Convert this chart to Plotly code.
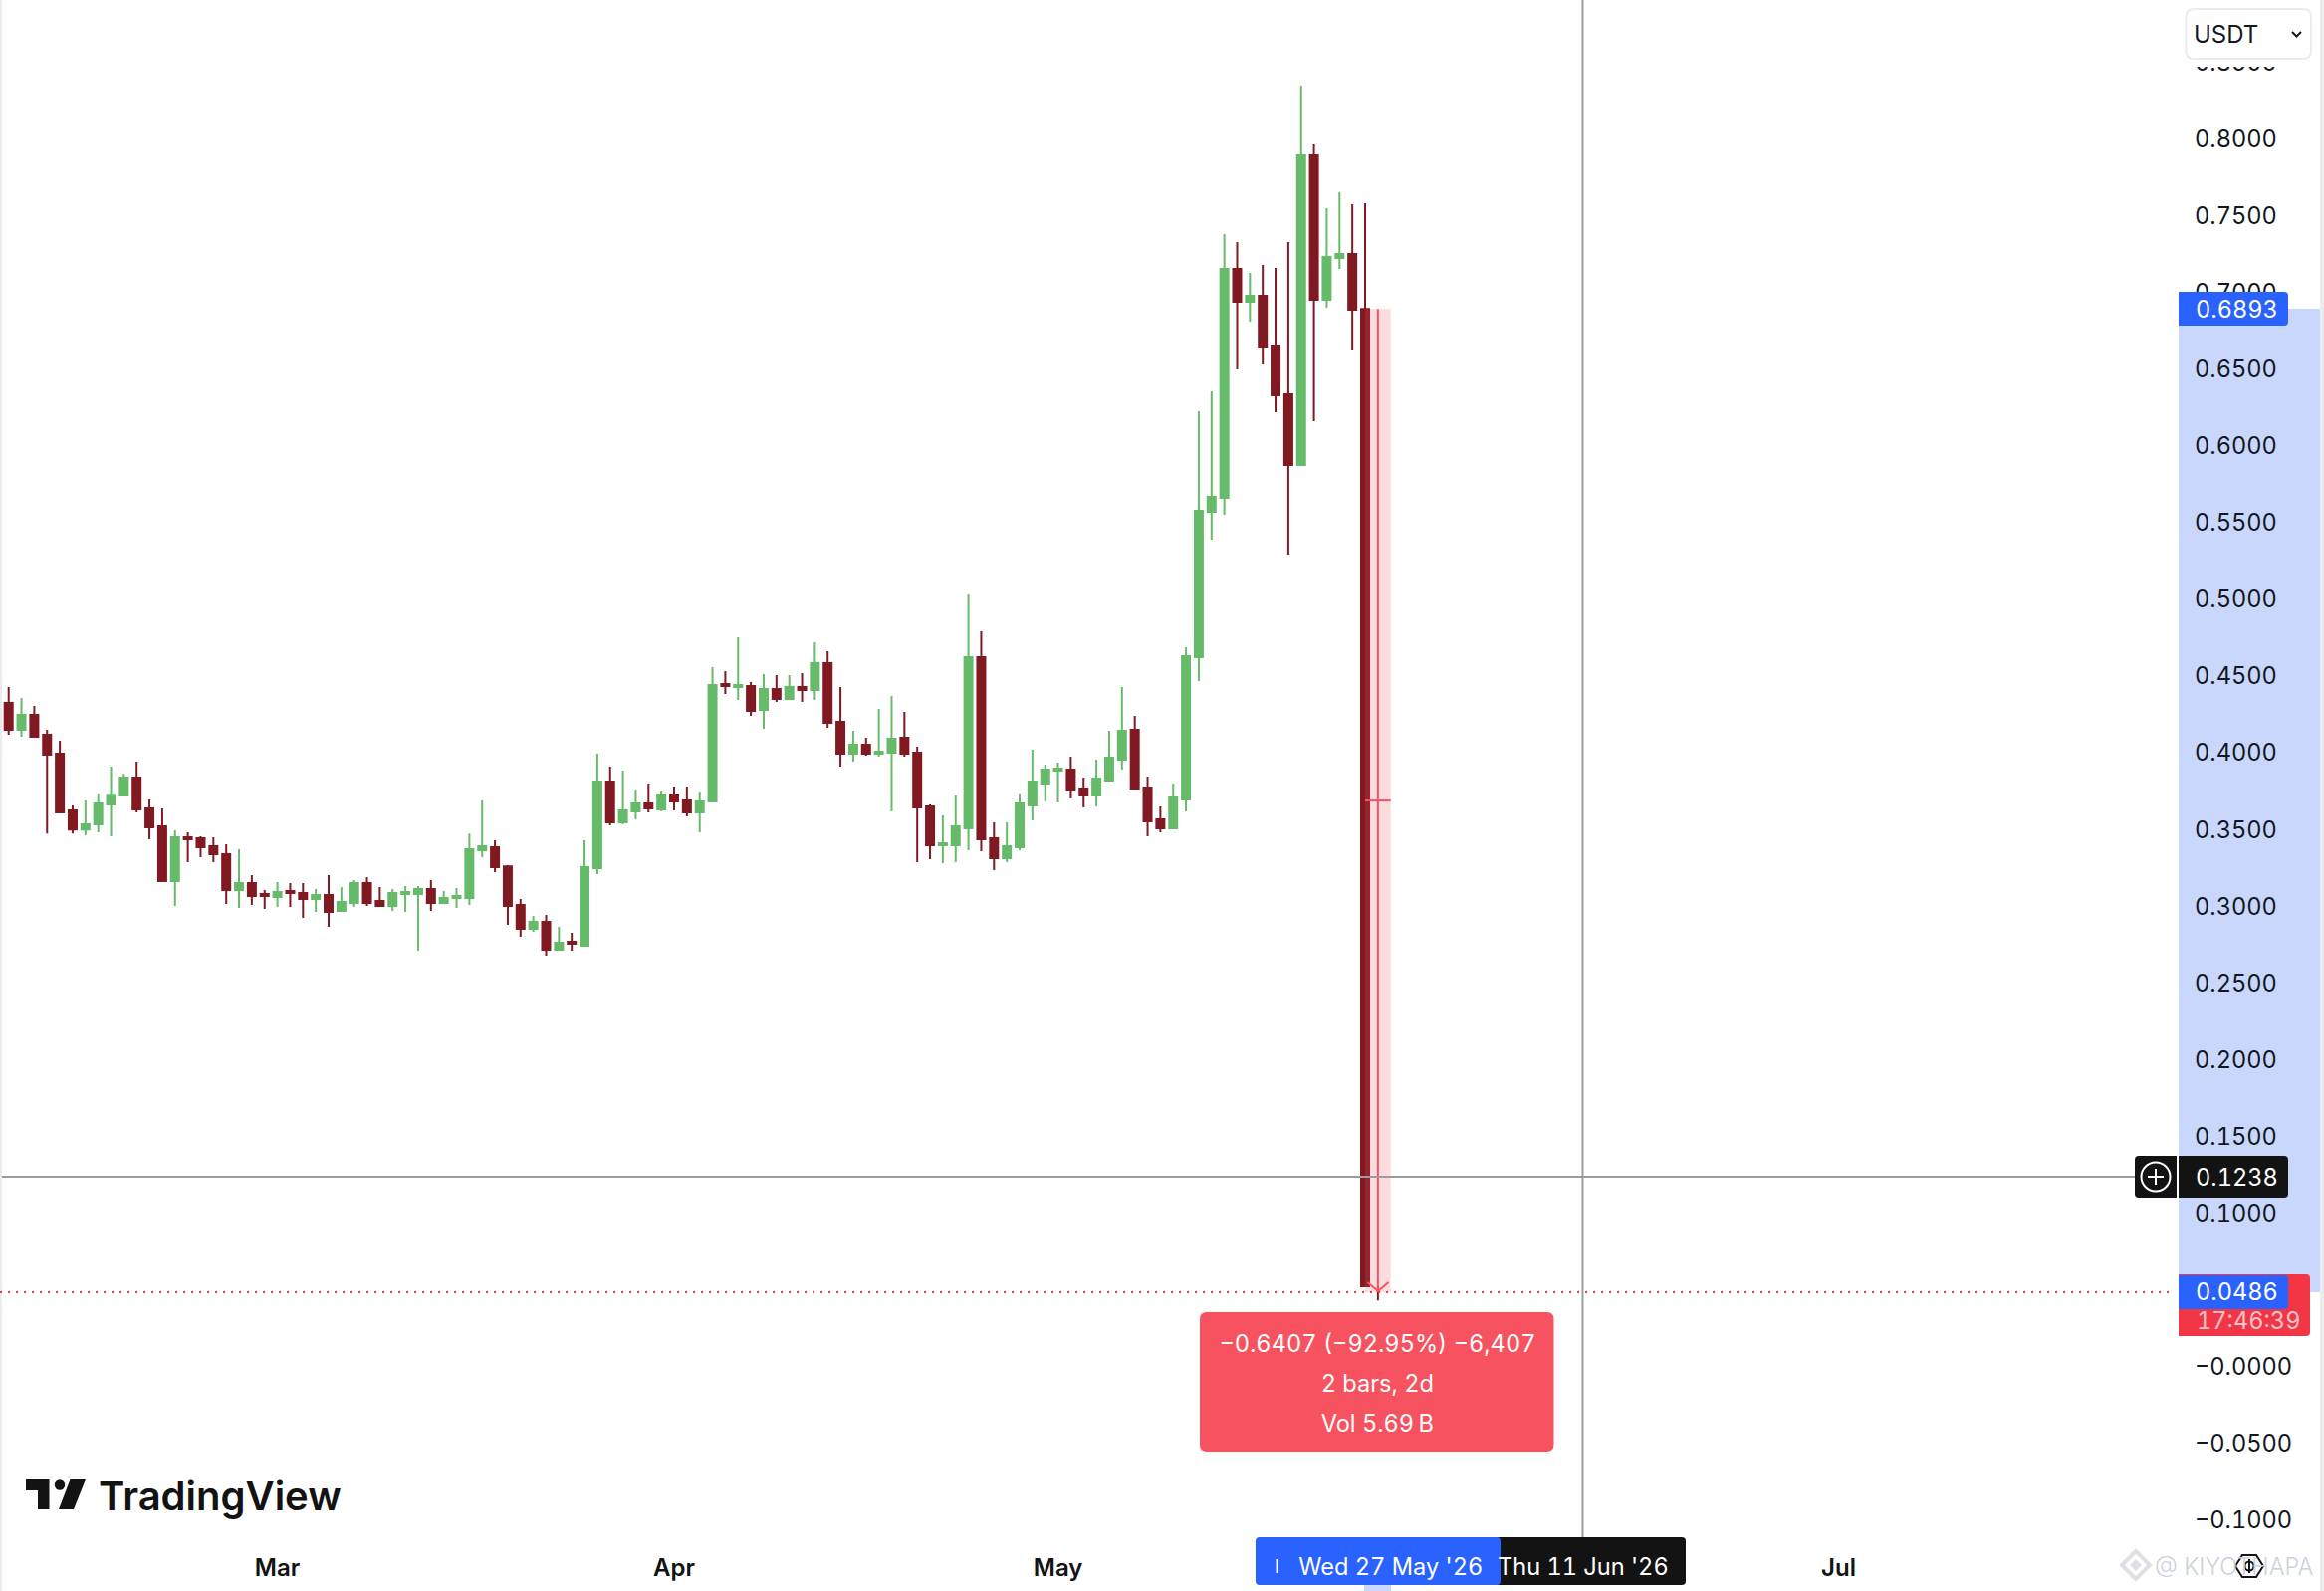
import pandas as pd
import plotly.graph_objects as go

# ---- data ----
start_date = "2026-02-08"
opens = [.4325,.4150,.4247,.4118,.3994,.3625,.3501,.3534,.3664,.3722,.3839,.3638,.3521,.3164,.3450,.3443,.3391,.3339,.3106,.3151,.3080,.3060,.3099,.3086,.3047,.3073,.2970,.3022,.3151,.3034,.3002,.3080,.3080,.3112,.3022,.3054,.3054,.3365,.3385,.3261,.3009,.2853,.2898,.2717,.2769,.2743,.3249,
         .3813,.3547,.3619,.3671,.3632,.3729,.3690,.3612,.3684,.4449,.4430,.4436,.4280,.4417,.4352,.4430,.4410,.4585,.4203,.3995,.4053,.3995,.4001,.4099,.4001,.3651,.3398,.3398,.3509,.4624,.3444,.3314,.3385,.3658,.3800,.3885,.3891,.3768,.3723,.3820,.3956,.4151,.3774,.3567,.3509,.3697,.4624,.5571,.5662,.7154,.6940,.6979,.6648,.6337,.5876,.7893,.6953,.7225,.7251,.6893]
highs = [.4429,.4358,.4306,.4150,.4079,.3657,.3690,.3735,.3910,.3865,.3943,.3696,.3638,.3495,.3482,.3456,.3450,.3404,.3372,.3203,.3106,.3158,.3151,.3151,.3112,.3203,.3125,.3171,.3190,.3125,.3112,.3132,.3132,.3171,.3099,.3119,.3475,.3690,.3430,.3268,.3047,.2937,.2944,.2866,.2827,.3430,.3994,
         .3910,.3885,.3761,.3800,.3755,.3781,.3781,.3749,.4559,.4533,.4754,.4462,.4514,.4507,.4507,.4520,.4721,.4663,.4430,.4144,.4099,.4287,.4371,.4267,.4040,.3664,.3593,.3723,.5033,.4793,.3547,.3547,.3736,.4021,.3924,.3937,.3976,.3839,.3956,.4144,.4430,.4241,.3846,.3651,.3800,.4689,.6226,.6356,.7381,.7329,.7128,.7180,.7160,.7329,.8347,.7965,.7550,.7653,.7576,.7582]
lows = [.4118,.4105,.4105,.3475,.3612,.3475,.3463,.3482,.3456,.3716,.3612,.3437,.3164,.3002,.3287,.3320,.3287,.3015,.2989,.3009,.2983,.2996,.2996,.2924,.2963,.2866,.2963,.2996,.3002,.2996,.2970,.2963,.2710,.2970,.3015,.2989,.3009,.3320,.3223,.2879,.2801,.2833,.2678,.2717,.2710,.2736,.3210,
        .3527,.3534,.3567,.3612,.3619,.3625,.3586,.3483,.3677,.4384,.4345,.4241,.4157,.4332,.4345,.4332,.4345,.4164,.3911,.3943,.3982,.3976,.3619,.3976,.3288,.3307,.3282,.3288,.3366,.3359,.3236,.3288,.3366,.3560,.3684,.3677,.3703,.3645,.3651,.3820,.3891,.3768,.3457,.3483,.3502,.3619,.4468,.5390,.5552,.6499,.6810,.6531,.6220,.5292,.5876,.6162,.6901,.7154,.6622,.0524]
closes = [.4150,.4247,.4105,.3988,.3612,.3501,.3534,.3670,.3728,.3839,.3631,.3514,.3164,.3450,.3437,.3385,.3339,.3106,.3151,.3067,.3067,.3093,.3086,.3047,.3073,.2963,.3028,.3151,.3022,.3002,.3086,.3093,.3112,.3022,.3054,.3067,.3372,.3391,.3255,.3002,.2853,.2898,.2717,.2762,.2756,.3255,.3813,
          .3547,.3625,.3671,.3638,.3729,.3684,.3612,.3684,.4443,.4436,.4443,.4274,.4417,.4352,.4430,.4410,.4585,.4196,.3995,.4053,.3995,.4008,.4092,.3995,.3645,.3398,.3411,.3521,.4624,.3437,.3314,.3392,.3671,.3813,.3891,.3898,.3761,.3723,.3833,.3969,.4144,.3768,.3554,.3509,.3710,.4631,.5577,.5669,.7154,.6940,.6979,.6642,.6330,.5876,.7893,.6953,.7232,.7251,.6888,.0524]
current_high, current_low, current_close = [.0524], [.0432], [.0486]

y_ticks = [.85, .80, .75, .70, .65, .60, .55, .50, .45, .40, .35, .30, .25, .20, .15, .10, 0.0, -.05, -.10]
y_labels = ["0.8500", "0.8000", "0.7500", "0.7000", "0.6500", "0.6000", "0.5500", "0.5000", "0.4500", "0.4000",
            "0.3500", "0.3000", "0.2500", "0.2000", "0.1500", "0.1000", "\u22120.0000", "\u22120.0500", "\u22120.1000"]
x_ticks = ["2026-03-01", "2026-04-01", "2026-05-01", "2026-07-01"]
x_labels = ["Mar", "Apr", "May", "Jul"]

dates = pd.date_range(start_date, periods=len(opens) + 1, freq="D")
last_open, last_close = opens[-1], current_close[0]
cross_price = 0.1238
cross_date = "2026-06-11"

W, H = 2334, 1598
PX, PY = 2188, 1544
FONT = "Inter"
INK = "#131722"
BLUE = "#2962FF"
STRIP = "#C9D7FC"
RED = "#F23645"
SOFT = "#F7525F"
GREEN = "#66BB6A"
MAROON = "#801922"
BLACK = "#131313"
TAG_SIZE = 23.6


def X(p):
    return p / W


def Y(p):
    return 1 - p / H


def C(a, b):
    return f"{X(a):.6f},{Y(b):.6f}"


def P(points, close=False):
    s = "M " + " L ".join(C(a, b) for a, b in points)
    return s + (" Z" if close else "")


def rrect(x0, y0, x1, y1, r=4, left=True, right=True):
    rl, rr = (r if left else 0), (r if right else 0)
    s = f"M {C(x0 + rl, y0)} L {C(x1 - rr, y0)} "
    s += f"Q {C(x1, y0)} {C(x1, y0 + rr)} L {C(x1, y1 - rr)} Q {C(x1, y1)} {C(x1 - rr, y1)} "
    s += f"L {C(x0 + rl, y1)} Q {C(x0, y1)} {C(x0, y1 - rl)} L {C(x0, y0 + rl)} Q {C(x0, y0)} {C(x0 + rl, y0)} Z"
    return s


shapes = []


def fill(path, color, layer="above"):
    shapes.append(dict(type="path", xref="paper", yref="paper", path=path, fillcolor=color, line_width=0, layer=layer))


def stroke(path, color, width=2, dash="solid"):
    shapes.append(dict(type="path", xref="paper", yref="paper", path=path, line=dict(color=color, width=width, dash=dash), layer="above"))


def circle(cx, cy, r, color, width=2, fc=None):
    shapes.append(dict(type="circle", xref="paper", yref="paper", x0=X(cx - r), x1=X(cx + r), y0=Y(cy + r), y1=Y(cy - r),
                       line=dict(color=color, width=width), fillcolor=fc or "rgba(0,0,0,0)", layer="above"))


annotations = []


def label(x, y, text, color="#FFFFFF", size=24, anchor="left", weight=400, family=FONT):
    annotations.append(dict(xref="paper", yref="paper", x=X(x), y=Y(y), text=text, showarrow=False, xanchor=anchor, align=anchor, yanchor="middle",
                            font=dict(family=family, size=size, color=color, weight=weight), borderpad=0, borderwidth=0))


# frame
fill(P([(0, 0), (2, 0), (2, H), (0, H)], True), "#EBEBEB")
fill(P([(2330, 0), (W, 0), (W, H), (2330, H)], True), "#EBEBEB")
# highlighted price range on the scale (under the tick labels)
fill(P([(PX, 310), (2330, 310), (2330, 1298), (PX, 1298)], True), STRIP, layer="below")

# measure tool
shapes.append(dict(type="rect", xref="x", yref="y", x0=dates[-2], x1=dates[-1] + pd.Timedelta(days=1), y0=last_close, y1=last_open,
                   fillcolor="rgba(247,82,95,0.2)", line_width=0, layer="above"))
mid = (last_open + last_close) / 2
shapes.append(dict(type="line", xref="x", yref="y", x0=dates[-2], x1=dates[-1] + pd.Timedelta(days=1), y0=mid, y1=mid, line=dict(color=SOFT, width=2), layer="above"))
shapes.append(dict(type="line", xref="x", yref="y", x0=dates[-1], x1=dates[-1], y0=last_close, y1=last_open, line=dict(color=SOFT, width=2), layer="above"))
stroke(P([(1373.5, 1288), (1384, 1297), (1394.5, 1288)]), SOFT, 2)

# last price dotted line
shapes.append(dict(type="line", xref="paper", yref="y", x0=0, x1=X(2182), y0=last_close, y1=last_close, line=dict(color=RED, width=2, dash="2px,6px"), layer="above"))
# crosshair
shapes.append(dict(type="line", xref="paper", yref="y", x0=X(2), x1=X(2144), y0=cross_price, y1=cross_price, line=dict(color="#9B9B9B", width=2), layer="above"))
shapes.append(dict(type="line", xref="x", yref="paper", x0=cross_date, x1=cross_date, y0=Y(PY), y1=1, line=dict(color="#9B9B9B", width=2), layer="above"))

# USDT button with its white backing
fill(P([(2190, 0), (2330, 0), (2330, 67), (2190, 67)], True), "#FFFFFF")
shapes.append(dict(type="path", xref="paper", yref="paper", path=rrect(2195.5, 9, 2321, 59, 8), fillcolor="#FFFFFF", line=dict(color="#EBEBEB", width=2), layer="above"))
stroke(P([(2302, 32), (2306.5, 36.5), (2311, 32)]), INK, 2)
label(2203, 34, "USDT", INK, 24)

# price scale tags
fill(rrect(PX, 293, 2298, 327, 4, left=False), BLUE)
label(2205, 310, "0.6893", "#FFFFFF", TAG_SIZE)
fill(rrect(PX, 1161, 2298, 1203, 4, left=False), BLACK)
label(2205, 1182, "0.1238", "#FFFFFF", TAG_SIZE)
fill(rrect(2144, 1161, 2186, 1203, 4, right=False), BLACK)
circle(2165, 1182, 14.5, "#FFFFFF", 2)
stroke(P([(2157, 1182), (2173, 1182)]), "#FFFFFF", 2)
stroke(P([(2165, 1174), (2165, 1190)]), "#FFFFFF", 2)
fill(rrect(PX, 1280, 2320, 1342, 4, left=False), RED)
fill(rrect(PX, 1281, 2298, 1315, 4, left=False), BLUE)
label(2205, 1297, "0.0486", "#FFFFFF", TAG_SIZE)
label(2206, 1326, "17:46:39", "#FFC4CA", TAG_SIZE)

# info box
fill(rrect(1205, 1318, 1560.5, 1458, 7), SOFT)
label(1383, 1349, "\u22120.6407 (\u221292.95%) \u22126,407", "#FFFFFF", 23.6, "center")
label(1383, 1389, "2 bars, 2d", "#FFFFFF", 23.6, "center")
label(1383, 1429, "Vol 5.69\u2009B", "#FFFFFF", 23.6, "center")

# time scale tags
fill(P([(1370, 1592), (1397, 1592), (1397, H), (1370, H)], True), STRIP)
fill(rrect(1400, 1544, 1693, 1592, 4, left=False), BLACK)
fill(rrect(1261, 1544, 1507, 1592, 4), BLUE)
stroke(P([(1282.5, 1566), (1282.5, 1580)]), "#FFFFFF", 2)
label(1396, 1573, "Wed 27 May '26", "#FFFFFF", 23.6, "center")
label(1590, 1573, "Thu 11 Jun '26", "#FFFFFF", 23.6, "center")

# TradingView logo
fill(P([(26, 1486), (49.5, 1486), (49.5, 1516), (38, 1516), (38, 1497), (26, 1497)], True), BLACK)
circle(60, 1491.5, 5.2, BLACK, 0, BLACK)
fill(P([(70.5, 1486), (86, 1486), (74, 1516), (59, 1516)], True), BLACK)
label(99, 1502.5, "TradingView", BLACK, 40, "left", 600)

# watermark
label(2164, 1573, "@ KIYOTHAPA", "#CDD1DE", 23.5, "left", 300)
stroke(P([(2145, 1558), (2159, 1572), (2145, 1586), (2131, 1572)]) + " Z", "#DFE0E6", 4)
fill(P([(2145, 1566), (2151, 1572), (2145, 1578), (2139, 1572)], True), "#DFE0E6")
stroke(P([(2245, 1573), (2252, 1562), (2266, 1562), (2273, 1573), (2266, 1584), (2252, 1584)]) + " Z", BLACK, 2)
circle(2259, 1573, 4.5, BLACK, 2)
stroke(P([(2259, 1566), (2259, 1580)]), BLACK, 2)

fig = go.Figure()
fig.add_trace(go.Candlestick(
    x=dates[:-1], open=opens, high=highs, low=lows, close=closes, whiskerwidth=0,
    increasing=dict(line=dict(color=GREEN, width=2), fillcolor=GREEN),
    decreasing=dict(line=dict(color=MAROON, width=2), fillcolor=MAROON),
    showlegend=False, hoverinfo="skip"))
fig.add_trace(go.Scatter(
    x=[dates[-1], dates[-1]], y=[current_high[0], current_low[0]], mode="lines",
    line=dict(color=MAROON, width=2), showlegend=False, hoverinfo="skip"))

fig.update_layout(
    width=W, height=H, autosize=False,
    margin=dict(l=0, r=0, t=0, b=0, pad=0),
    paper_bgcolor="#FFFFFF", plot_bgcolor="rgba(0,0,0,0)",
    showlegend=False, dragmode=False, hovermode=False,
    boxgap=1 - 8 / 12.85, boxgroupgap=0,
    font=dict(family=FONT, color=INK),
    shapes=shapes, annotations=annotations,
    xaxis=dict(type="date", domain=[0, PX / W], range=["2026-02-07 07:45", "2026-07-27 13:40"],
               rangeslider=dict(visible=False), showgrid=False, zeroline=False, showline=False, ticks="",
               tickmode="array", tickvals=x_ticks, ticktext=x_labels, ticklabelstandoff=14,
               tickfont=dict(family=FONT, size=24, color=BLACK, weight=600)),
    yaxis=dict(domain=[1 - PY / H, 1], range=[-0.1110, 0.8905], side="right",
               showgrid=False, zeroline=False, showline=False, ticks="",
               tickmode="array", tickvals=y_ticks, ticktext=y_labels, ticklabelstandoff=15,
               tickfont=dict(family=FONT, size=TAG_SIZE, color=INK)),
)

post = ("document.body.style.margin='0';document.documentElement.style.overflow='hidden';"
        "var s=document.createElement('style');"
        "s.textContent='svg text{font-feature-settings:\"tnum\" 1;}';"
        "document.head.appendChild(s);")
fig.write_html("out.html", config={"displayModeBar": False, "responsive": False}, post_script=post)
